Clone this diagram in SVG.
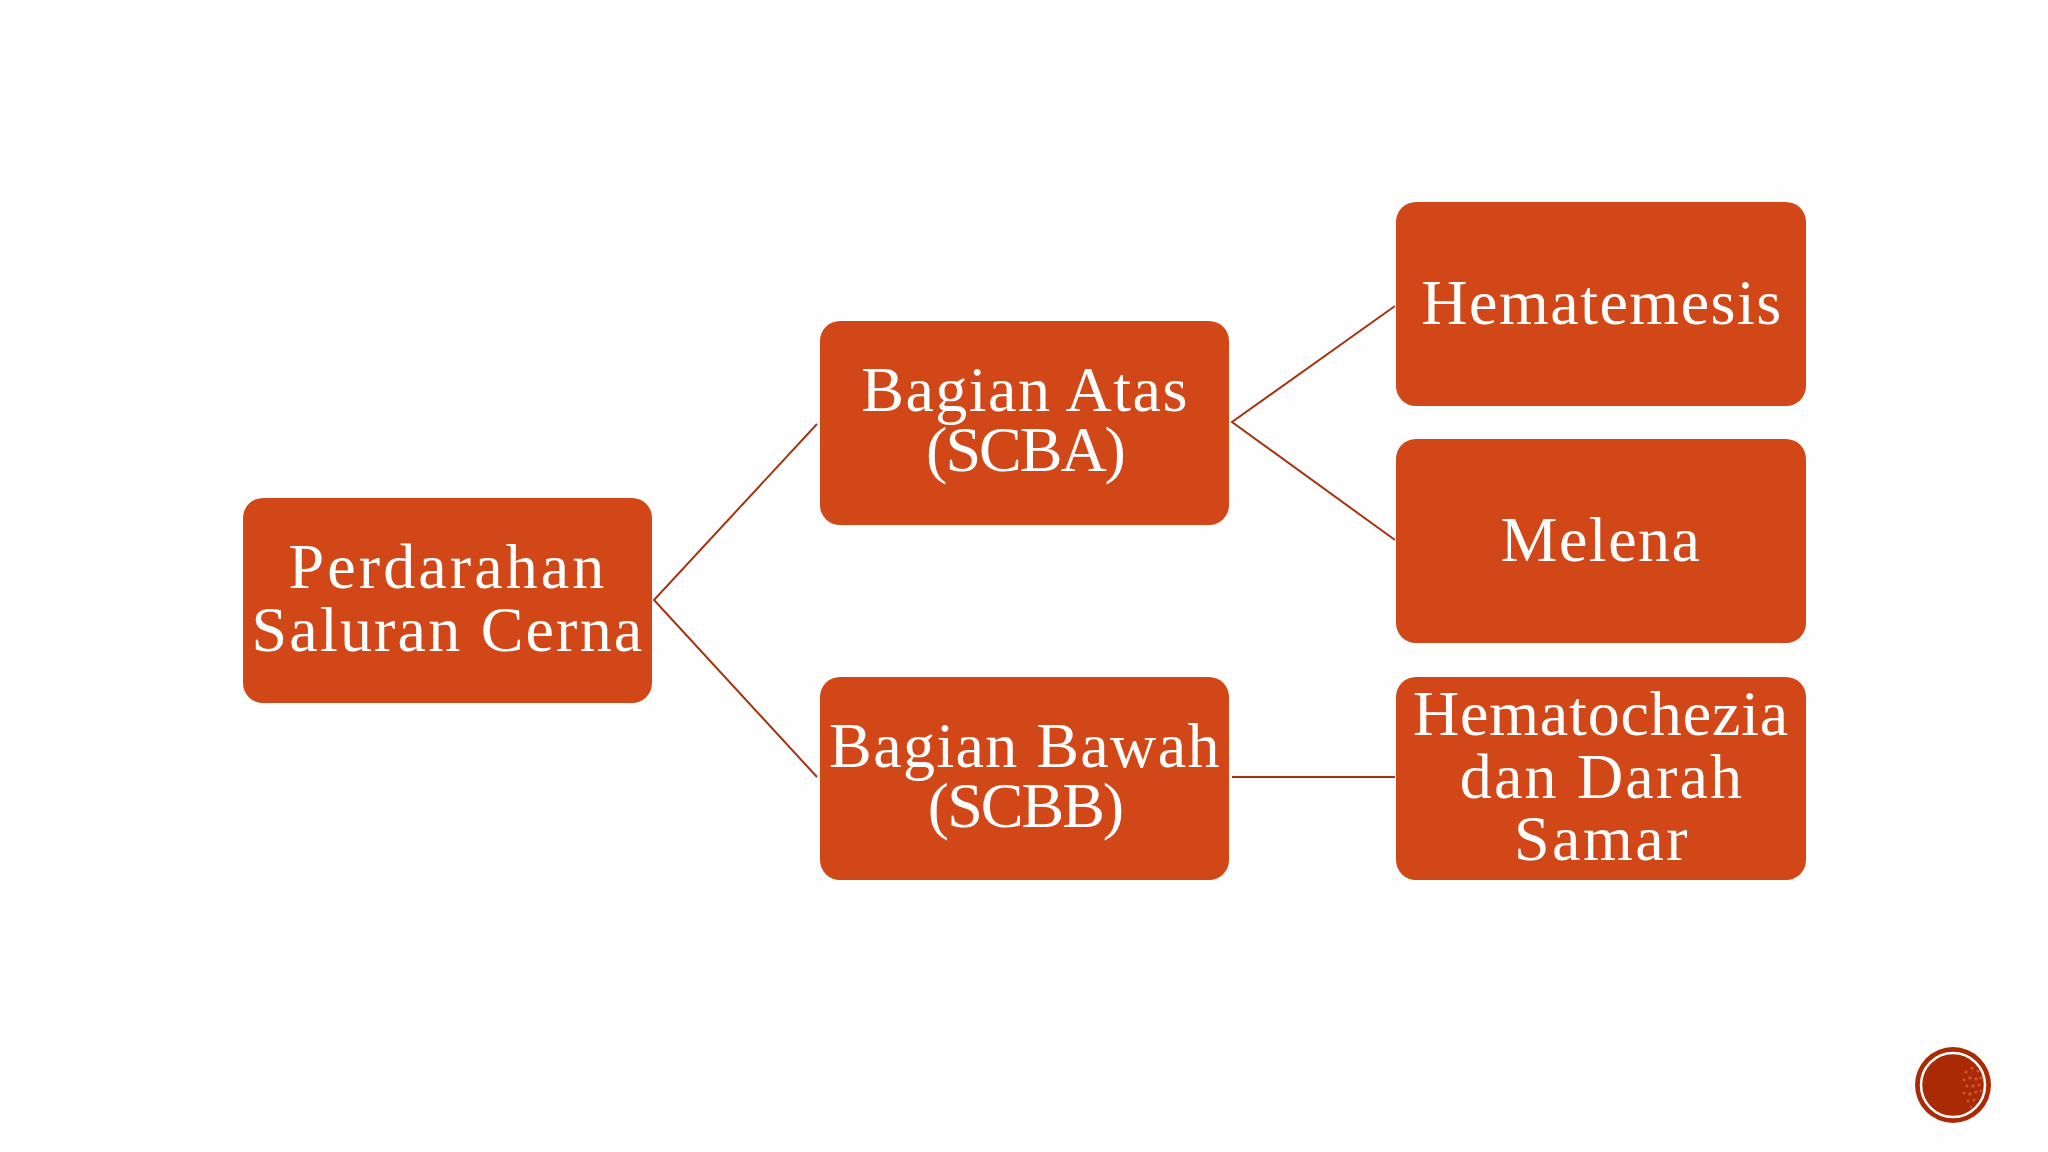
<svg xmlns="http://www.w3.org/2000/svg" width="2048" height="1152" viewBox="0 0 2048 1152">
<defs>
<style>
.n{fill:#d24718}
.t{font-family:"Liberation Serif","Times New Roman",serif;font-size:64px;fill:#fff;text-anchor:middle;letter-spacing:1.5px}
.c{stroke:#a5330f;stroke-width:2;fill:none}
.d{fill:#d9663c}
</style>
</defs>
<rect width="2048" height="1152" fill="#fefefe"/>
<g id="connectors">
<path class="c" d="M817 424L654 600L817 777"/>
<path class="c" d="M1395 306L1232 422L1395 540"/>
<path class="c" d="M1232 777H1395"/>
</g>
<g id="n1"><rect class="n" x="243" y="498" width="409" height="205" rx="20"/><text class="t"><tspan x="448" y="588" letter-spacing="3.1">Perdarahan</tspan><tspan x="448" y="651" letter-spacing="2.2">Saluran Cerna</tspan></text></g>
<g id="n2"><rect class="n" x="820" y="321" width="409" height="204" rx="20"/><text class="t"><tspan x="1025" y="411">Bagian Atas</tspan><tspan x="1025" y="471" letter-spacing="-2">(SCBA)</tspan></text></g>
<g id="n3"><rect class="n" x="820" y="677" width="409" height="203" rx="20"/><text class="t"><tspan x="1025" y="767" letter-spacing="1.4">Bagian Bawah</tspan><tspan x="1025" y="827" letter-spacing="-2">(SCBB)</tspan></text></g>
<g id="n4"><rect class="n" x="1396" y="202" width="410" height="204" rx="20"/><text class="t" x="1602" y="324">Hematemesis</text></g>
<g id="n5"><rect class="n" x="1396" y="439" width="410" height="204" rx="20"/><text class="t" x="1601" y="561">Melena</text></g>
<g id="n6"><rect class="n" x="1396" y="677" width="410" height="203" rx="20"/><text class="t"><tspan x="1601" y="735" letter-spacing="0.85">Hematochezia</tspan><tspan x="1602" y="798" letter-spacing="2.2">dan Darah</tspan><tspan x="1602" y="860" letter-spacing="2.5">Samar</tspan></text></g>
<g id="badge"><circle cx="1953" cy="1085" r="38" fill="#a92a05"/><circle cx="1953" cy="1085" r="32" fill="#a92a05" stroke="#fff" stroke-width="2.5"/>
<g class="d" opacity="0.75"><circle cx="1966" cy="1072" r="1.6"/><circle cx="1972" cy="1068" r="1.6"/><circle cx="1978" cy="1071" r="1.6"/><circle cx="1964" cy="1080" r="1.4"/><circle cx="1970" cy="1078" r="1.8"/><circle cx="1976" cy="1079" r="1.8"/><circle cx="1981" cy="1078" r="1.5"/><circle cx="1967" cy="1086" r="1.6"/><circle cx="1973" cy="1086" r="1.8"/><circle cx="1979" cy="1085" r="1.6"/><circle cx="1964" cy="1093" r="1.4"/><circle cx="1970" cy="1094" r="1.8"/><circle cx="1976" cy="1092" r="1.6"/><circle cx="1981" cy="1091" r="1.3"/><circle cx="1968" cy="1101" r="1.4"/><circle cx="1974" cy="1100" r="1.5"/><circle cx="1971" cy="1107" r="1.2"/></g></g>
</svg>
